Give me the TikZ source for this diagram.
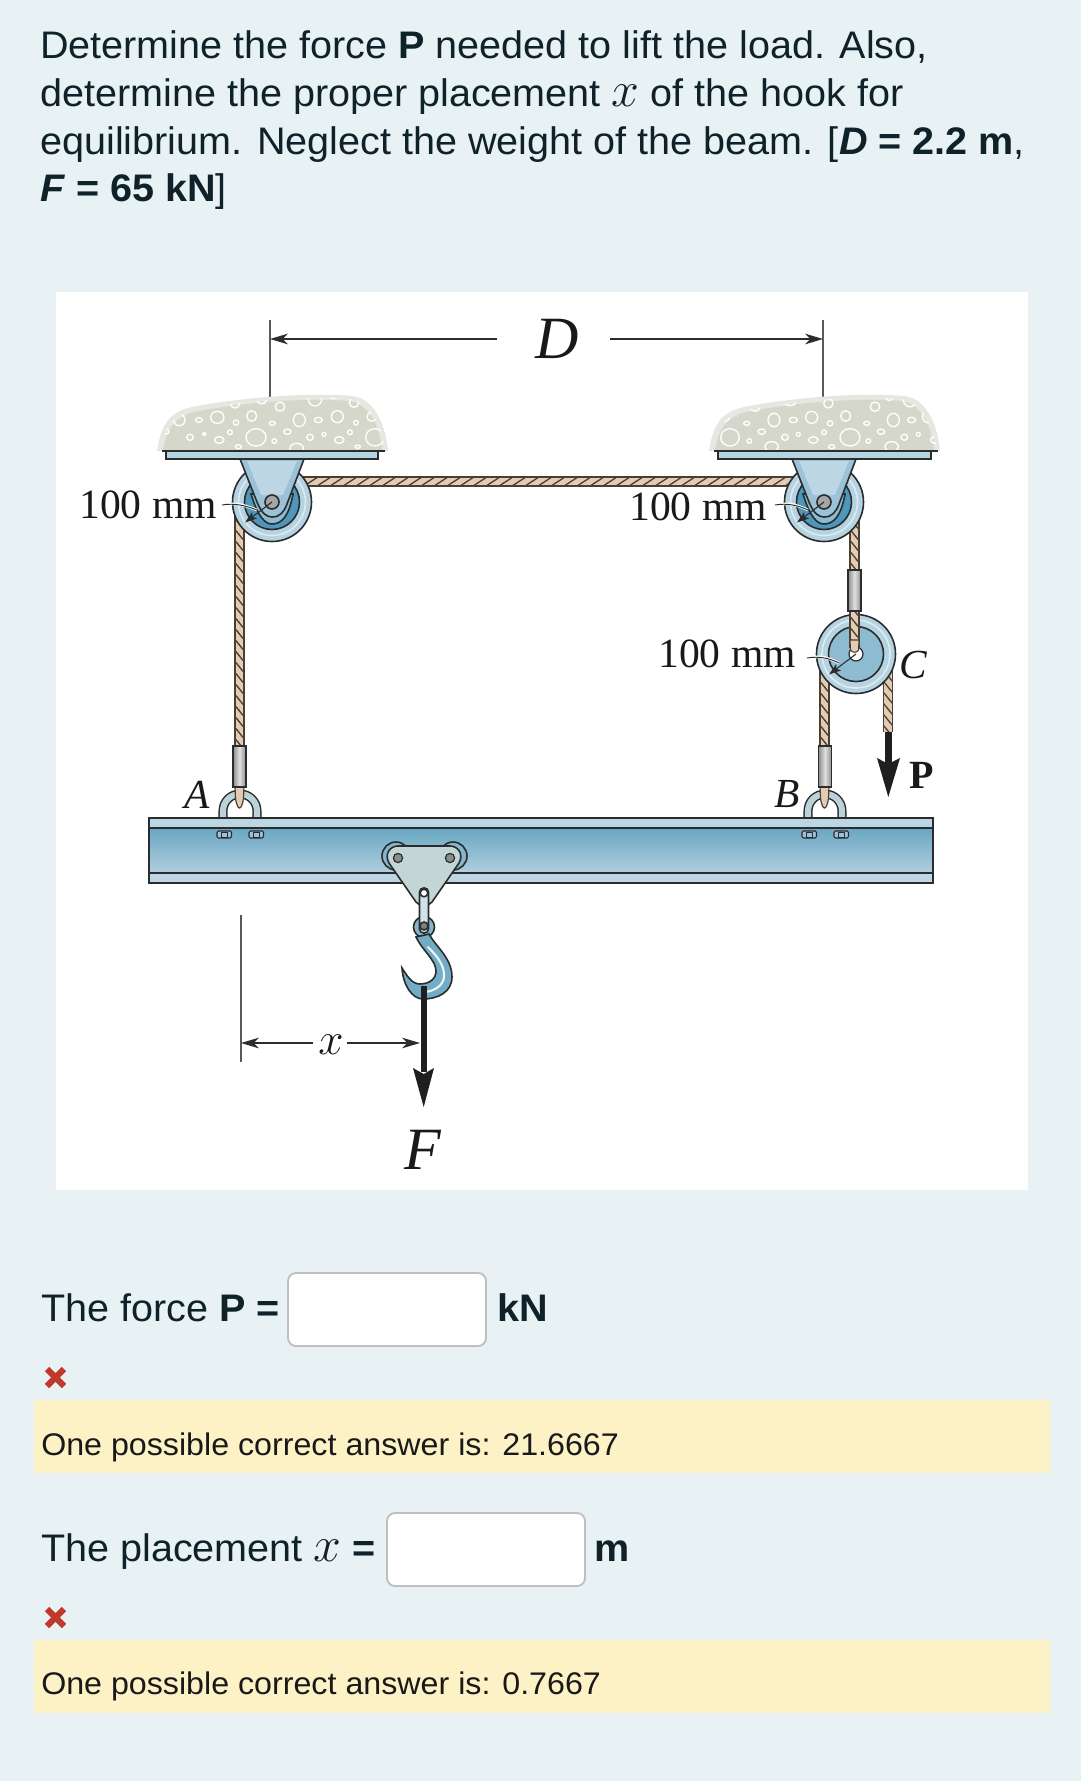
\documentclass[tikz,border=0pt]{standalone}
\usepackage{fix-cm}
\usepackage{graphicx}
\usepackage{fontspec}
\setmainfont[FakeStretch=1.03]{Liberation Sans}
\newfontfamily\lbserif{Liberation Serif}
\usetikzlibrary{arrows.meta}
\definecolor{bgc}{HTML}{E8F2F5}
\definecolor{ink}{HTML}{0F2229}
\definecolor{band}{HTML}{FDF1C6}
\definecolor{redx}{HTML}{C0392B}
\definecolor{dk}{HTML}{2A2C2E}
\definecolor{rp}{HTML}{E2CDB4}
\definecolor{rpd}{HTML}{4D3E33}
\definecolor{bl1}{HTML}{B5D3E1}
\definecolor{bl2}{HTML}{4F97B8}
\definecolor{bl3}{HTML}{9CC2D8}
\definecolor{bl4}{HTML}{BCD6E4}
\definecolor{bl5}{HTML}{8DBBD2}
\definecolor{conc}{HTML}{D5D7CB}
\definecolor{conc2}{HTML}{E6E7E0}
\definecolor{plt}{HTML}{C3D6D5}
\tikzset{
  txt/.style={anchor=base west,inner sep=0pt,text=ink},
  ans/.style={anchor=base west,inner sep=0pt,text=black!90},
  lab/.style={anchor=base,inner sep=0pt,text=black!90},
  ext/.style={draw=black!65,line width=1.1pt},
  dimline/.style={draw=dk,line width=0.9pt,-{Stealth[length=13.5pt,width=8pt,inset=4pt]}},
  inbox/.style={draw=black!25,line width=1.4pt,fill=white,rounded corners=6pt},
  outl/.style={draw=dk,line width=1.2pt},
  xmark/.style={draw=redx,line width=4.6pt},
}
\newcommand\hd{\fontsize{28.8}{34}\selectfont}
\newcommand\md{\fontsize{28.8}{34}\selectfont}
\newcommand\sm{\fontsize{23.45}{30}\selectfont}
\newcommand\bigx{\scalebox{1.3}{$x$}}
\newcommand\ropeV[3]{%
  \fill[rp] (#1-4.5,#2) rectangle (#1+4.5,#3);
  \begin{scope}
    \clip (#1-4.5,#2) rectangle (#1+4.5,#3);
    \pgfmathtruncatemacro\nn{(#3-#2)/11+1}
    \foreach \k in {0,...,\nn}{
      \draw[rpd,line width=1pt] (#1-6,#2+11*\k-7) .. controls (#1-1,#2+11*\k-2) and (#1+1,#2+11*\k+2) .. (#1+6,#2+11*\k+7);
    }
  \end{scope}
  \draw[rpd,line width=.9pt] (#1-4.5,#2) -- (#1-4.5,#3) (#1+4.5,#2) -- (#1+4.5,#3);
}
\newcommand\ropeH[3]{%
  \fill[rp] (#2,#1-4.5) rectangle (#3,#1+4.5);
  \begin{scope}
    \clip (#2,#1-4.5) rectangle (#3,#1+4.5);
    \pgfmathtruncatemacro\nn{(#3-#2)/13+1}
    \foreach \k in {0,...,\nn}{
      \draw[rpd,line width=1pt] (#2+13*\k-9,#1+6) .. controls (#2+13*\k-2,#1+1) and (#2+13*\k+2,#1-1) .. (#2+13*\k+9,#1-6);
    }
  \end{scope}
  \draw[rpd,line width=.9pt] (#2,#1-4.5) -- (#3,#1-4.5) (#2,#1+4.5) -- (#3,#1+4.5);
}
\newcommand\conclayer[1]{%
  \begin{scope}[shift={(#1,0)}]
    \fill[conc2] (0,451) .. controls (4,425) and (12,412) .. (35,407) .. controls (80,398) and (150,392) .. (195,396) .. controls (215,398) and (228,420) .. (231,451) -- cycle;
    \fill[conc] (6,451) .. controls (9,430) and (17,417) .. (38,412) .. controls (80,403) and (150,397) .. (192,401) .. controls (211,403) and (223,425) .. (225,451) -- cycle;
  \end{scope}
}
\newcommand\pulleyfixed[2]{%
  \begin{scope}[shift={(#1,#2)}]
    \draw[outl,fill=bl1] (0,0) circle[radius=39.5];
    \draw[draw=bl4!50!white,line width=1.2pt] (0,0) circle[radius=33.5];
    \draw[outl,fill=bl2] (0,0) circle[radius=27.5];
    \draw[outl,fill=bl5] (-21,-8) .. controls (-14,15) and (-7,22) .. (0,22) .. controls (10,22) and (17,14) .. (21,-8) -- cycle;
    \draw[outl,fill=bl3] (-32,-43) -- (-15,0) .. controls (-10,12) and (-5,15) .. (0,15) .. controls (8,15) and (12,10) .. (15,2) -- (32,-43) -- cycle;
    \fill[bl4] (-25,-41) -- (25,-41) -- (11,-7) -- (-11,-7) -- cycle;
    \draw[outl,fill=black!35] (0,0) circle[radius=7];
  \end{scope}
}
\newcommand\radial[6]{%
  \draw[white,line width=2pt] (#1+8,#2-1) .. controls (#1+14,#2-2) and (#1+22,#2) .. (#3,#4);
  \draw[dk,line width=.7pt] (#1,#2) .. controls (#1+12,#2-2) and (#1+22,#2) .. (#3,#4);
  \draw[dk,line width=.8pt,-{Stealth[length=9pt,width=6pt,inset=2pt]}] (#5,#6) -- +(-27,20.5);
}
\newcommand\sleeve[3]{%
  \shade[left color=black!45,right color=black!45,middle color=black!12] (#1-6.5,#2) rectangle (#1+6.5,#3);
  \draw[outl] (#1-6.5,#2) rectangle (#1+6.5,#3);
}
\newcommand\shackle[1]{%
  \draw[dk,line width=6.8pt] (#1-17,820) -- (#1-17,811) arc[start angle=180,end angle=360,radius=17] -- (#1+17,820);
  \draw[plt!80!bl3,line width=4.6pt] (#1-17,819) -- (#1-17,811) arc[start angle=180,end angle=360,radius=17] -- (#1+17,819);
}
\newcommand\ropeend[1]{%
  \draw[rpd,line width=.9pt,fill=rp] (#1-4.5,786) -- (#1-4,798) .. controls (#1-3,806) and (#1-1,808) .. (#1,808) .. controls (#1+1,808) and (#1+3,806) .. (#1+4,798) -- (#1+4.5,786) -- cycle;
}
\newcommand\bolt[1]{%
  \draw[dk,line width=.8pt,fill=bl3,rounded corners=1pt] (#1,831) rectangle (#1+14.5,838);
  \draw[dk,line width=.5pt] (#1+4,832) rectangle (#1+10.5,837);
}
\begin{document}
\begin{tikzpicture}[x=0.75pt,y=-0.75pt]
\useasboundingbox (0,0) rectangle (1081,1781);
\fill[bgc] (0,0) rectangle (1081,1781);

% ---- question text
\node[txt] (q1) at (40,58) {\hd Determine the force \textbf{P} needed to lift the load. Also,};
\node[txt] (q2) at (40,106) {\hd determine the proper placement \bigx{} of the hook for};
\node[txt] (q3) at (40,154) {\hd equilibrium. Neglect the weight of the beam. [\textbf{\textit{D}} \textbf{= 2.2 m},};
\node[txt] (q4) at (40,201) {\hd \textbf{\textit{F}} \textbf{= 65 kN}]};

% ---- figure panel
\fill[white] (56,292) rectangle (1028,1190);

% ---- D dimension
\coordinate (dl) at (270,339);
\coordinate (dr) at (823,339);
\draw[ext] (270,320) -- (270,403);
\draw[ext] (823,320) -- (823,398);
\node[lab,font=\lbserif\itshape\fontsize{45}{50}\selectfont] (dtxt) at (557,358) {D};
\coordinate (dla) at (497,339);
\coordinate (dra) at (610,339);
\draw[dimline] (dla) -- (dl);
\draw[dimline] (dra) -- (dr);

% ---- concrete
\conclayer{157}
\conclayer{709}
\begin{scope}
  \clip (160,451) .. controls (164,428) and (172,415) .. (195,410) .. controls (237,401) and (307,395) .. (349,399) .. controls (369,401) and (382,423) .. (385,451) -- cycle;
  \begin{scope}[shift={(60,380)},x=0.25pt,y=-0.25pt]
    \foreach \a/\b/\c/\d in {358/120/18/17,417/120/10/7,472/112/20/18,528/128/8/8,575/108/15/16,637/130/9/6,718/120/18/20,775/120/12/8,832/110/18/18,888/128/7/7,390/172/10/9,433/162/5/5,478/180/14/10,510/157/7/7,588/172/30/26,643/183/7/7,682/155/11/8,750/172/10/9,792/163/6/6,838/180/14/10,870/157/7/7,945/172/28/26,525/70/14/14,660/80/14/14,765/58/20/20,882/68/14/14,820/45/12/12,410/68/18/12,605/60/14/12,535/200/9/6,710/205/20/15,893/200/8/5,320/155/7/7,935/110/14/14}
      \draw[white,line width=1pt] (\a,\b) ellipse[x radius=\c,y radius=\d];
  \end{scope}
\end{scope}
\begin{scope}
  \clip (712,451) .. controls (716,428) and (724,415) .. (747,410) .. controls (789,401) and (859,395) .. (901,399) .. controls (921,401) and (934,423) .. (937,451) -- cycle;
  \begin{scope}[shift={(680,380)},x=0.25pt,y=-0.25pt]
    \foreach \a/\b/\c/\d in {225/80/15/14,200/130/9/6,282/120/18/20,340/120/12/8,395/112/18/18,450/130/8/8,497/108/15/16,560/130/9/6,640/120/18/20,695/120/12/8,745/110/18/18,315/172/10/9,355/163/6/6,400/180/14/10,432/157/7/7,510/172/30/26,565/183/7/7,603/155/11/8,673/172/10/9,715/163/6/6,765/180/14/10,150/172/28/26,208/183/7/7,245/155/11/8,330/65/18/12,445/70/14/14,585/80/14/14,690/60/20/20,628/50/12/12,275/200/20/15,455/200/9/6,635/200/20/15,135/110/14/14}
      \draw[white,line width=1pt] (\a,\b) ellipse[x radius=\c,y radius=\d];
  \end{scope}
\end{scope}

% ---- ceiling plates
\draw[outl,fill=bl1] (166,451) rectangle (378,459);
\draw[dk,line width=2.2pt] (162,451) -- (385,451);
\draw[outl,fill=bl1] (718,451) rectangle (931,459);
\draw[dk,line width=2.2pt] (714,451) -- (938,451);

% ---- ropes
\ropeH{481.5}{272}{824}
\ropeV{239.5}{502}{746}
\ropeV{854.5}{502}{570}
\ropeV{824.5}{654}{746}
\ropeV{888}{654}{732}

% ---- pulleys
\pulleyfixed{272}{502}
\pulleyfixed{824}{502}
\draw[outl,fill=bl1] (856,654) circle[radius=39.5];
\draw[bl4!50!white,line width=1.2pt] (856,654) circle[radius=34];
\draw[outl,fill=bl5] (856,654) circle[radius=27.5];
\ropeV{854.5}{611}{648}
\fill[white] (856,654) circle[radius=7];
\draw[dk,line width=.9pt] (856,654) circle[radius=7];
\draw[rpd,fill=rp,line width=.8pt] (850,640) -- (859,640) -- (858.5,650) .. controls (857,653) and (852,653) .. (850.5,650) -- cycle;
\sleeve{854.5}{570}{611}

% ---- leaders
\radial{222}{505}{257}{510}{272}{502}
\radial{775}{505}{808}{510}{824}{502}
\radial{807}{658}{839}{663}{856}{654}

% ---- shackles, sleeves
\shackle{240}
\shackle{825}
\ropeend{239.5}
\ropeend{824.5}
\sleeve{239.5}{746}{787}
\sleeve{825}{746}{787}

% ---- beam
\fill[bl4] (149,818) rectangle (933,883);
\shade[top color=bl2!85!white,bottom color=bl3!80!white] (149,828) rectangle (933,873);
\draw[dk,line width=1.1pt] (149,828) -- (933,828) (149,873) -- (933,873);
\draw[dk,line width=1.4pt] (149,818) rectangle (933,883);
\bolt{217}
\bolt{249}
\bolt{802}
\bolt{834}

% ---- trolley and hook
\draw[outl,fill=bl2!70!white] (396,856) circle[radius=14];
\draw[outl,fill=bl2!70!white] (453,856) circle[radius=14];
\draw[outl,fill=plt] (398,846) -- (450,846) .. controls (458,846) and (464,854) .. (459,863) -- (432,902) .. controls (428,907) and (420,907) .. (416,902) -- (389,863) .. controls (384,854) and (390,846) .. (398,846) -- cycle;
\fill[black!45] (398,858) circle[radius=4.6];
\draw[dk,line width=.9pt] (398,858) circle[radius=4.6];
\fill[black!45] (450,858) circle[radius=4.6];
\draw[dk,line width=.9pt] (450,858) circle[radius=4.6];
\draw[outl,fill=bl2!70!white] (424,927) circle[radius=10.5];
\draw[outl,fill=bl4!70!white,rounded corners=3pt] (419.5,888) rectangle (428.5,933);
\draw[outl,fill=white] (424,893) circle[radius=3.8];
\draw[outl,fill=bl2!80!white] (429,934) .. controls (436,947) and (452,958) .. (452,977) .. controls (452,992) and (438,999) .. (423,999) .. controls (412,999) and (403,985) .. (402,968) .. controls (407,976) and (412,984) .. (420,984) .. controls (429,984) and (436,979) .. (436,971) .. controls (436,960) and (422,950) .. (416,937) -- cycle;
\draw[white!70!bl4,line width=1.6pt,line cap=round] (428,947) .. controls (436,955) and (445,965) .. (444,977) .. controls (443,986) and (434,991) .. (425,992);
\draw[outl,fill=dk!60] (424,926) circle[radius=4];

% ---- force F
\fill[black!88] (421,986) rectangle (426.5,1072);
\fill[black!88] (413,1068) -- (423.7,1074) -- (434,1068) -- (423.7,1107) -- cycle;
\node[lab,font=\lbserif\itshape\fontsize{45}{50}\selectfont] (ftxt) at (423,1169) {F};

% ---- x dimension
\draw[ext] (241,915) -- (241,1062);
\coordinate (xl) at (241,1043);
\coordinate (xr) at (420,1043);
\coordinate (xla) at (313,1043);
\coordinate (xra) at (347,1043);
\draw[dimline] (xla) -- (xl);
\draw[dimline] (xra) -- (xr);
\node[lab,font=\fontsize{34}{38}\selectfont] (xtxt) at (331,1054) {$x$};

% ---- force P
\fill[black!88] (885,732) rectangle (891.5,764);
\fill[black!88] (877,758) -- (888.3,764) -- (900,758) -- (888.3,797) -- cycle;
\node[lab,font=\lbserif\bfseries\fontsize{30}{34}\selectfont] (ptxt) at (922,788) {P};

% ---- labels
\node[lab,font=\lbserif\itshape\fontsize{31}{36}\selectfont] (atxt) at (197,808) {A};
\node[lab,font=\lbserif\itshape\fontsize{31}{36}\selectfont] (btxt) at (787,807) {B};
\node[lab,font=\lbserif\itshape\fontsize{31}{36}\selectfont] (ctxt) at (913,678) {C};
\node[lab,font=\lbserif\fontsize{31.2}{36}\selectfont] (m1) at (148,518) {100 mm};
\node[lab,font=\lbserif\fontsize{31.2}{36}\selectfont] (m2) at (698,520) {100 mm};
\node[lab,font=\lbserif\fontsize{31.2}{36}\selectfont] (m3) at (727,667) {100 mm};

% ---- answer 1
\node[txt] (a1) at (41,1321) {\md The force \textbf{P =}};
\draw[inbox] (288,1273) rectangle (486,1346);
\node[txt] (u1) at (497,1321) {\md\textbf{kN}};
\draw[xmark] (47,1369) -- (64,1386) (64,1369) -- (47,1386);
\fill[band] (34,1400) rectangle (1050,1473);
\node[ans] (r1) at (41,1455) {\sm One possible correct answer is: 21.6667};

% ---- answer 2
\node[txt] (a2) at (41,1561) {\md The placement \bigx{} \textbf{=}};
\draw[inbox] (387,1513) rectangle (585,1586);
\node[txt] (u2) at (594,1561) {\md\textbf{m}};
\draw[xmark] (47,1609) -- (64,1626) (64,1609) -- (47,1626);
\fill[band] (34,1640) rectangle (1050,1713);
\node[ans] (r2) at (41,1694) {\sm One possible correct answer is: 0.7667};
\end{tikzpicture}
\end{document}
